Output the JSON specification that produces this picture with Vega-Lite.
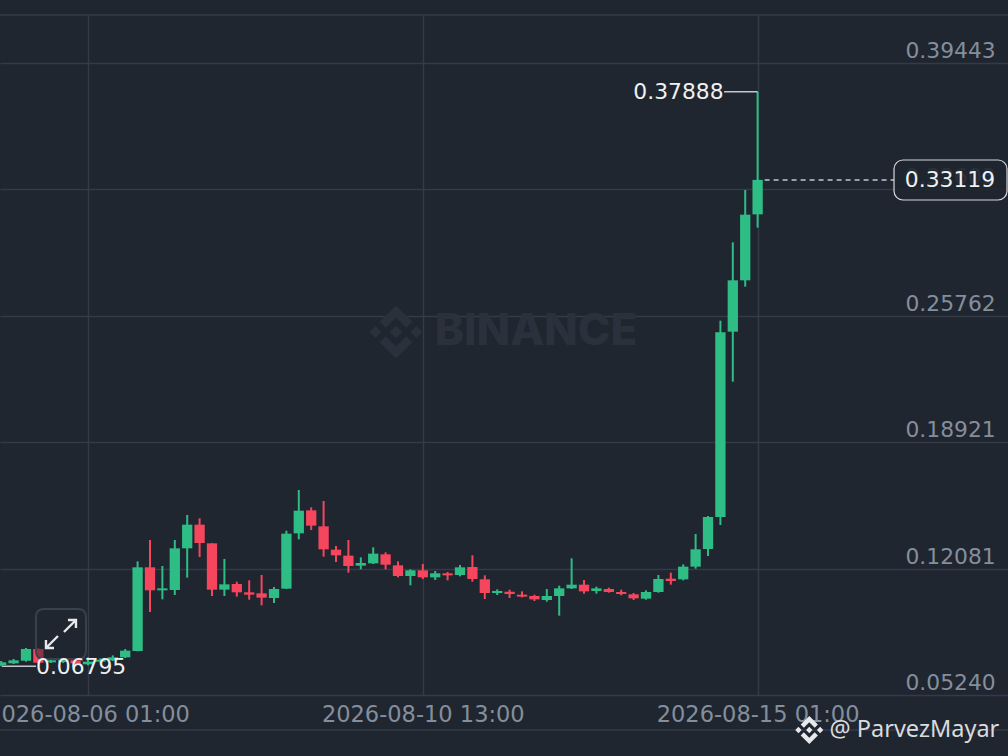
{
  "$schema": "https://vega.github.io/schema/vega-lite/v6.json",
  "width": 1008,
  "height": 680,
  "autosize": "none",
  "padding": {"left": 0, "top": 15, "right": 0, "bottom": 61},
  "background": "#1f2630",
  "config": {"view": {"stroke": null}, "font": "DejaVu Sans"},
  "datasets": {
    "candles": [
      {"t":"2026-08-04T21:00:00","o":0.06864,"h":0.0708,"l":0.06795,"c":0.07008},
      {"t":"2026-08-05T01:00:00","o":0.06954,"h":0.07188,"l":0.06918,"c":0.07116},
      {"t":"2026-08-05T05:00:00","o":0.07098,"h":0.07784,"l":0.07044,"c":0.0773},
      {"t":"2026-08-05T09:00:00","o":0.0773,"h":0.07766,"l":0.06954,"c":0.0699},
      {"t":"2026-08-05T13:00:00","o":0.07008,"h":0.0717,"l":0.06972,"c":0.07116},
      {"t":"2026-08-05T17:00:00","o":0.07026,"h":0.0717,"l":0.06972,"c":0.07116},
      {"t":"2026-08-05T21:00:00","o":0.07116,"h":0.0717,"l":0.069,"c":0.06954},
      {"t":"2026-08-06T01:00:00","o":0.069,"h":0.07279,"l":0.06846,"c":0.07044},
      {"t":"2026-08-06T05:00:00","o":0.07044,"h":0.07225,"l":0.0699,"c":0.07152},
      {"t":"2026-08-06T09:00:00","o":0.07116,"h":0.07387,"l":0.0708,"c":0.07279},
      {"t":"2026-08-06T13:00:00","o":0.07279,"h":0.0773,"l":0.07243,"c":0.0764},
      {"t":"2026-08-06T17:00:00","o":0.07622,"h":0.12474,"l":0.07604,"c":0.1215},
      {"t":"2026-08-06T21:00:00","o":0.1215,"h":0.13629,"l":0.09732,"c":0.10905},
      {"t":"2026-08-07T01:00:00","o":0.10905,"h":0.12222,"l":0.10418,"c":0.11013},
      {"t":"2026-08-07T05:00:00","o":0.10923,"h":0.13629,"l":0.10652,"c":0.13178},
      {"t":"2026-08-07T09:00:00","o":0.13178,"h":0.14982,"l":0.1159,"c":0.14459},
      {"t":"2026-08-07T13:00:00","o":0.14459,"h":0.14801,"l":0.12709,"c":0.13466},
      {"t":"2026-08-07T17:00:00","o":0.13448,"h":0.13448,"l":0.10598,"c":0.10941},
      {"t":"2026-08-07T21:00:00","o":0.10941,"h":0.126,"l":0.10598,"c":0.11229},
      {"t":"2026-08-08T01:00:00","o":0.11247,"h":0.11374,"l":0.10562,"c":0.10797},
      {"t":"2026-08-08T05:00:00","o":0.10797,"h":0.11446,"l":0.104,"c":0.1067},
      {"t":"2026-08-08T09:00:00","o":0.10742,"h":0.11735,"l":0.10093,"c":0.10508},
      {"t":"2026-08-08T13:00:00","o":0.1049,"h":0.11085,"l":0.10219,"c":0.10977},
      {"t":"2026-08-08T17:00:00","o":0.10995,"h":0.14134,"l":0.10977,"c":0.13972},
      {"t":"2026-08-08T21:00:00","o":0.1399,"h":0.16335,"l":0.13665,"c":0.15216},
      {"t":"2026-08-09T01:00:00","o":0.15234,"h":0.15397,"l":0.1417,"c":0.14405},
      {"t":"2026-08-09T05:00:00","o":0.14368,"h":0.15739,"l":0.12727,"c":0.13124},
      {"t":"2026-08-09T09:00:00","o":0.13105,"h":0.13304,"l":0.12438,"c":0.12799},
      {"t":"2026-08-09T13:00:00","o":0.12781,"h":0.13629,"l":0.11861,"c":0.12221},
      {"t":"2026-08-09T17:00:00","o":0.1224,"h":0.1269,"l":0.12041,"c":0.12384},
      {"t":"2026-08-09T21:00:00","o":0.12366,"h":0.13232,"l":0.1233,"c":0.12889},
      {"t":"2026-08-10T01:00:00","o":0.12853,"h":0.12961,"l":0.12041,"c":0.12294},
      {"t":"2026-08-10T05:00:00","o":0.12258,"h":0.12474,"l":0.11608,"c":0.1168},
      {"t":"2026-08-10T09:00:00","o":0.1168,"h":0.12041,"l":0.11175,"c":0.11987},
      {"t":"2026-08-10T13:00:00","o":0.11987,"h":0.1233,"l":0.11518,"c":0.11608},
      {"t":"2026-08-10T17:00:00","o":0.11608,"h":0.11951,"l":0.11464,"c":0.11825},
      {"t":"2026-08-10T21:00:00","o":0.11825,"h":0.11897,"l":0.11446,"c":0.11716},
      {"t":"2026-08-11T01:00:00","o":0.11734,"h":0.12276,"l":0.11662,"c":0.12149},
      {"t":"2026-08-11T05:00:00","o":0.12167,"h":0.12799,"l":0.11374,"c":0.11518},
      {"t":"2026-08-11T09:00:00","o":0.115,"h":0.11716,"l":0.10435,"c":0.1076},
      {"t":"2026-08-11T13:00:00","o":0.1076,"h":0.10959,"l":0.10652,"c":0.10868},
      {"t":"2026-08-11T17:00:00","o":0.10832,"h":0.10941,"l":0.1049,"c":0.10706},
      {"t":"2026-08-11T21:00:00","o":0.1067,"h":0.1085,"l":0.10526,"c":0.10562},
      {"t":"2026-08-12T01:00:00","o":0.10598,"h":0.1067,"l":0.10327,"c":0.10417},
      {"t":"2026-08-12T05:00:00","o":0.10381,"h":0.10977,"l":0.10291,"c":0.10598},
      {"t":"2026-08-12T09:00:00","o":0.10598,"h":0.11157,"l":0.09534,"c":0.11013},
      {"t":"2026-08-12T13:00:00","o":0.11013,"h":0.12636,"l":0.10977,"c":0.11211},
      {"t":"2026-08-12T17:00:00","o":0.11211,"h":0.11464,"l":0.10724,"c":0.1085},
      {"t":"2026-08-12T21:00:00","o":0.10868,"h":0.11103,"l":0.10724,"c":0.11013},
      {"t":"2026-08-13T01:00:00","o":0.10977,"h":0.11049,"l":0.10778,"c":0.10814},
      {"t":"2026-08-13T05:00:00","o":0.10814,"h":0.10941,"l":0.10634,"c":0.10706},
      {"t":"2026-08-13T09:00:00","o":0.10688,"h":0.1076,"l":0.10381,"c":0.10472},
      {"t":"2026-08-13T13:00:00","o":0.10454,"h":0.10905,"l":0.10399,"c":0.10814},
      {"t":"2026-08-13T17:00:00","o":0.10814,"h":0.11734,"l":0.10778,"c":0.11518},
      {"t":"2026-08-13T21:00:00","o":0.11536,"h":0.11861,"l":0.11211,"c":0.1141},
      {"t":"2026-08-14T01:00:00","o":0.115,"h":0.12312,"l":0.11446,"c":0.12186},
      {"t":"2026-08-14T05:00:00","o":0.12186,"h":0.13954,"l":0.12078,"c":0.13124},
      {"t":"2026-08-14T09:00:00","o":0.13142,"h":0.14928,"l":0.12763,"c":0.14874},
      {"t":"2026-08-14T13:00:00","o":0.14874,"h":0.255,"l":0.14441,"c":0.24868},
      {"t":"2026-08-14T17:00:00","o":0.24904,"h":0.29739,"l":0.22198,"c":0.27683},
      {"t":"2026-08-14T21:00:00","o":0.27683,"h":0.32571,"l":0.2734,"c":0.31236},
      {"t":"2026-08-15T01:00:00","o":0.31254,"h":0.37888,"l":0.30533,"c":0.33119}
    ]
  },
  "layer": [
    {
      "data": {"values": [{"p": 0.42043}, {"p": 0.03346}]},
      "mark": {"type": "rule", "color": "#343b46", "strokeWidth": 1.5},
      "encoding": {
        "y": {
          "field": "p", "type": "quantitative", "title": null,
          "scale": {"domain": [0.0524, 0.42043], "nice": false, "zero": false},
          "axis": {
            "orient": "right", "values": [0.0524, 0.12081, 0.18921, 0.25762, 0.32603, 0.39443],
            "format": ".5f", "labelColor": "#848e9c", "labelFontSize": 21.8, "labelFont": "DejaVu Sans",
            "labelPadding": -103, "labelAlign": "left", "labelBaseline": "middle", "labelOffset": -12.5,
            "labelFlush": false, "labelOverlap": false, "labelBound": false, "labelLimit": 400,
            "domain": false, "ticks": false, "grid": true, "gridColor": "#343b46", "gridWidth": 1.5
          }
        }
      }
    },
    {
      "data": {"values": [{"t": "2026-08-10T04:21:00", "p": 0.24886}]},
      "mark": {"type": "point", "filled": true, "opacity": 1, "color": "#2a313d", "size": 2809, "shape": "M-.388,-.16L0,-.548L.389,-.159L.615,-.385L0,-1L-.614,-.385Z M-1,0L-.774,-.226L-.548,0L-.774,.226Z M-.388,.16L0,.548L.389,.159L.615,.385L0,1L-.614,.385Z M1,0L.774,-.226L.548,0L.774,.226Z M.229,0L0,-.229L-.229,0L0,.229Z"},
      "encoding": {"x": {"field": "t", "type": "temporal"}, "y": {"field": "p", "type": "quantitative"}}
    },
    {
      "data": {"values": [{"t": "2026-08-12T01:30:00", "p": 0.24886, "label": "BINANCE"}]},
      "mark": {"type": "text", "color": "#2a313d", "font": "Inter", "fontSize": 44, "fontWeight": 800, "align": "center", "baseline": "middle"},
      "encoding": {"x": {"field": "t", "type": "temporal"}, "y": {"field": "p", "type": "quantitative"}, "text": {"field": "label"}}
    },
    {
      "data": {"name": "candles"},
      "mark": {"type": "rule", "strokeWidth": 2},
      "encoding": {
        "x": {
          "field": "t", "type": "temporal", "title": null,
          "scale": {"domain": [{"year": 2026, "month": 8, "date": 4, "hours": 20, "minutes": 37}, {"year": 2026, "month": 8, "date": 18, "hours": 9, "minutes": 46}], "padding": 0},
          "axis": {
            "values": [{"year": 2026, "month": 8, "date": 6, "hours": 1}, {"year": 2026, "month": 8, "date": 10, "hours": 13}, {"year": 2026, "month": 8, "date": 15, "hours": 1}],
            "format": "%Y-%m-%d %H:%M", "labelColor": "#848e9c", "labelFontSize": 22.5, "labelFont": "DejaVu Sans",
            "labelPadding": 8, "labelFlush": false, "labelOverlap": false, "labelBound": false, "labelLimit": 400,
            "domain": false, "ticks": false, "grid": true, "gridColor": "#343b46", "gridWidth": 1.5
          }
        },
        "y": {"field": "l", "type": "quantitative"},
        "y2": {"field": "h"},
        "color": {"condition": {"test": "datum.c >= datum.o", "value": "#2ebd85"}, "value": "#f6465d"}
      }
    },
    {
      "data": {"name": "candles"},
      "mark": {"type": "bar", "width": 10.3},
      "encoding": {
        "x": {"field": "t", "type": "temporal"},
        "y": {"field": "o", "type": "quantitative"},
        "y2": {"field": "c"},
        "color": {"condition": {"test": "datum.c >= datum.o", "value": "#2ebd85"}, "value": "#f6465d"}
      }
    },
    {
      "data": {"values": [{"t": "2026-08-05T16:17:00", "p": 0.08541}]},
      "mark": {"type": "point", "fill": "#1f2630", "fillOpacity": 0.5, "stroke": "#3a414d", "strokeWidth": 2, "opacity": 1, "size": 2500, "shape": "M-.68,-1L.68,-1Q1,-1,1,-.68L1,.68Q1,1,.68,1L-.68,1Q-1,1,-1,.68L-1,-.68Q-1,-1,-.68,-1Z"},
      "encoding": {"x": {"field": "t", "type": "temporal"}, "y": {"field": "p", "type": "quantitative"}}
    },
    {
      "data": {"values": [{"t": "2026-08-05T16:17:00", "p": 0.08541}]},
      "mark": {"type": "point", "filled": false, "stroke": "#e6e8ea", "strokeWidth": 2.4, "opacity": 1, "size": 2500, "shape": "M-.12,.08L-.6,.56M-.6,.24L-.6,.56L-.28,.56M.12,-.08L.6,-.56M.28,-.56L.6,-.56L.6,-.24"},
      "encoding": {"x": {"field": "t", "type": "temporal"}, "y": {"field": "p", "type": "quantitative"}}
    },
    {
      "data": {"values": [
        {"a": "2026-08-14T14:10:00", "b": "2026-08-15T01:00:00", "p": 0.37888},
        {"a": "2026-08-04T21:16:00", "b": "2026-08-05T08:14:00", "p": 0.06795}
      ]},
      "mark": {"type": "rule", "color": "#c4c8ce", "strokeWidth": 1.5},
      "encoding": {"x": {"field": "a", "type": "temporal"}, "x2": {"field": "b"}, "y": {"field": "p", "type": "quantitative"}}
    },
    {
      "data": {"values": [{"a": "2026-08-15T03:15:00", "b": "2026-08-16T21:00:00", "p": 0.33119}]},
      "mark": {"type": "rule", "color": "#c4c8ce", "strokeWidth": 1.5, "strokeDash": [5, 4]},
      "encoding": {"x": {"field": "a", "type": "temporal"}, "x2": {"field": "b"}, "y": {"field": "p", "type": "quantitative"}}
    },
    {
      "data": {"values": [{"a": "2026-08-16T21:00:00", "b": "2026-08-18T09:27:00", "p1": 0.34195, "p2": 0.3203}]},
      "mark": {"type": "rect", "fill": "#1f2630", "fillOpacity": 0.9, "stroke": "#d5d8dc", "strokeWidth": 1.2, "cornerRadius": 9},
      "encoding": {"x": {"field": "a", "type": "temporal"}, "x2": {"field": "b"}, "y": {"field": "p1", "type": "quantitative"}, "y2": {"field": "p2"}}
    },
    {
      "data": {"values": [{"t": "2026-08-14T14:00:00", "p": 0.37888, "label": "0.37888"}]},
      "mark": {"type": "text", "color": "#f0f1f2", "fontSize": 21.8, "align": "right", "baseline": "middle"},
      "encoding": {"x": {"field": "t", "type": "temporal"}, "y": {"field": "p", "type": "quantitative"}, "text": {"field": "label"}}
    },
    {
      "data": {"values": [
        {"t": "2026-08-05T08:14:00", "p": 0.06745, "label": "0.06795"},
        {"t": "2026-08-17T00:30:00", "p": 0.33119, "label": "0.33119"}
      ]},
      "mark": {"type": "text", "color": "#f0f1f2", "fontSize": 21.8, "align": "left", "baseline": "middle"},
      "encoding": {"x": {"field": "t", "type": "temporal"}, "y": {"field": "p", "type": "quantitative"}, "text": {"field": "label"}}
    },
    {
      "data": {"values": [{"t": "2026-08-15T17:40:00", "p": 0.03346}]},
      "mark": {"type": "point", "filled": true, "opacity": 1, "color": "#e8e9eb", "size": 784, "shape": "M-.388,-.16L0,-.548L.389,-.159L.615,-.385L0,-1L-.614,-.385Z M-1,0L-.774,-.226L-.548,0L-.774,.226Z M-.388,.16L0,.548L.389,.159L.615,.385L0,1L-.614,.385Z M1,0L.774,-.226L.548,0L.774,.226Z M.229,0L0,-.229L-.229,0L0,.229Z"},
      "encoding": {"x": {"field": "t", "type": "temporal"}, "y": {"field": "p", "type": "quantitative"}}
    },
    {
      "data": {"values": [{"t": "2026-08-16T00:13:00", "p": 0.03346, "label": "@ ParvezMayar"}]},
      "mark": {"type": "text", "color": "#d9dbde", "font": "Noto Sans", "fontSize": 23.5, "align": "left", "baseline": "middle"},
      "encoding": {"x": {"field": "t", "type": "temporal"}, "y": {"field": "p", "type": "quantitative"}, "text": {"field": "label"}}
    }
  ]
}
